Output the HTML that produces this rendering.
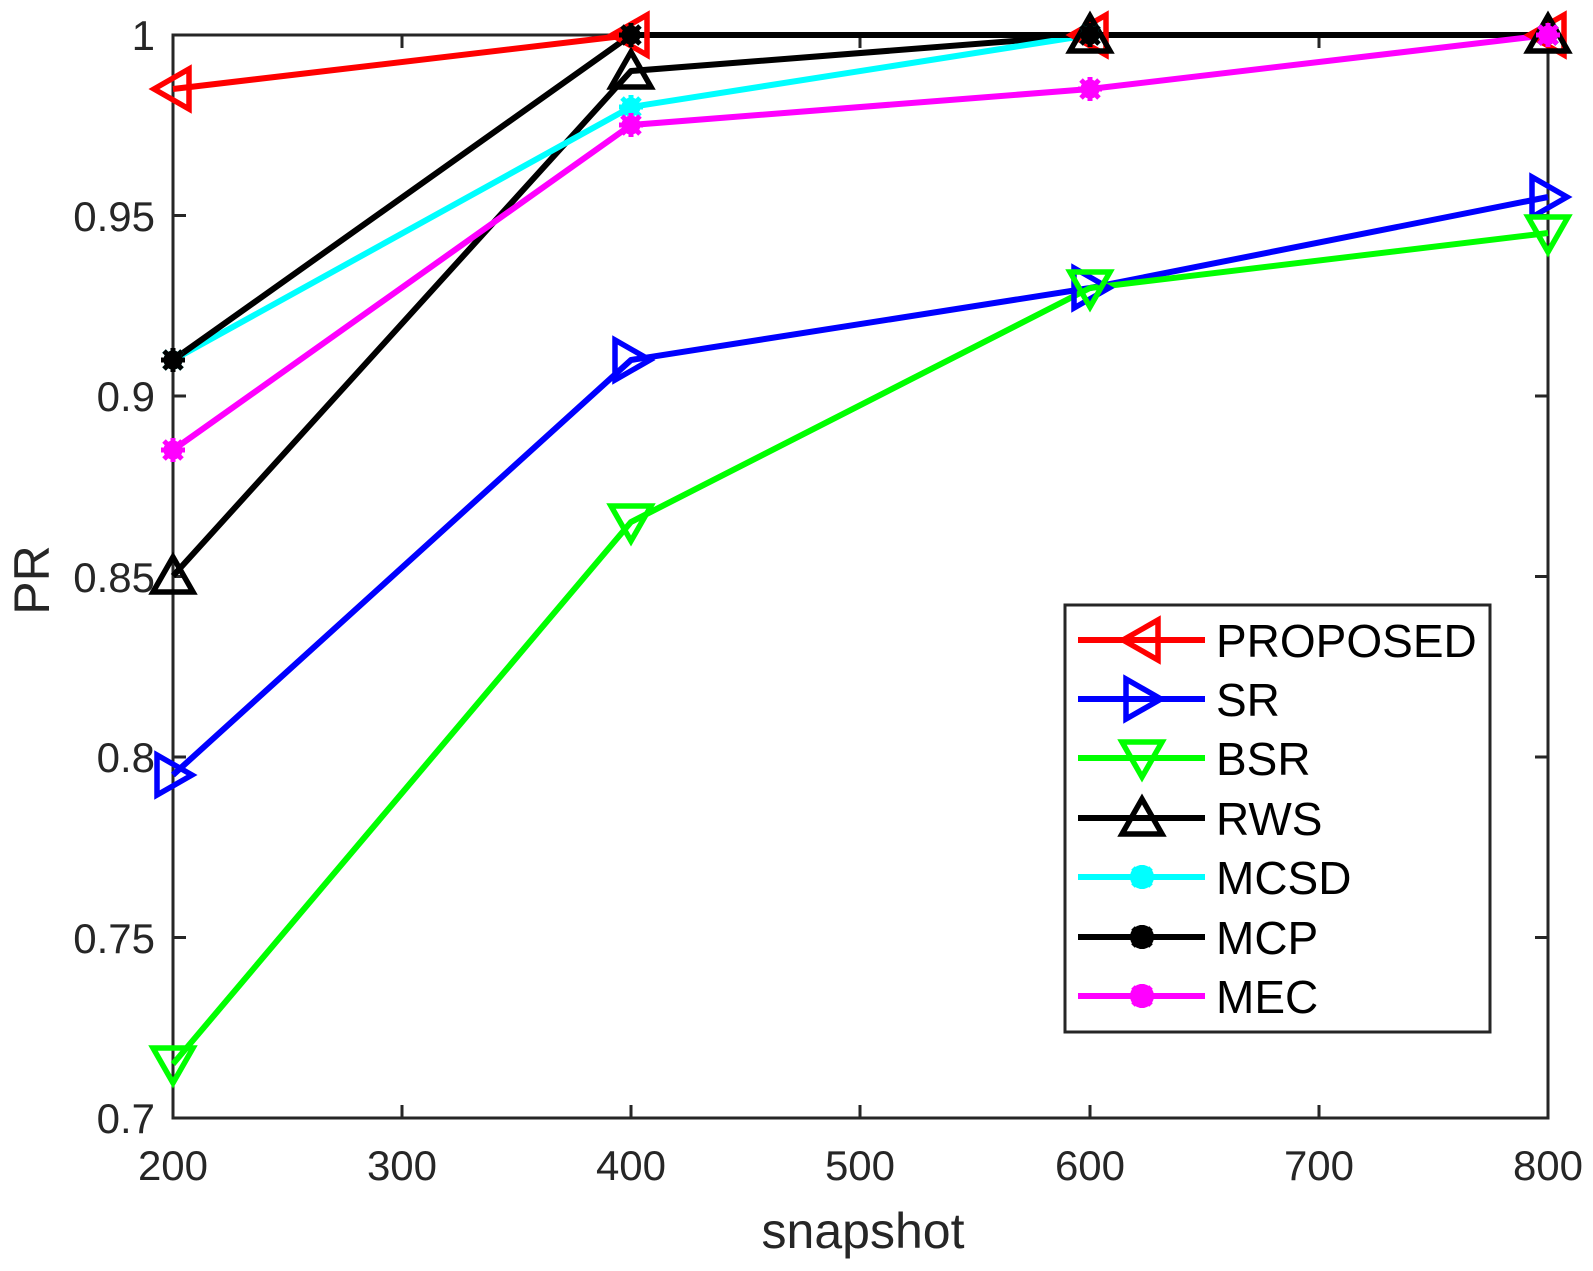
<!DOCTYPE html>
<html><head><style>body{margin:0;background:#fff}svg{display:block}</style></head><body>
<svg width="1593" height="1271" xmlns="http://www.w3.org/2000/svg" font-family="Liberation Sans, sans-serif">
<defs>
<g id="tl"><polygon points="-19,0 16,-20 16,20" fill="none" stroke-width="5.5"/></g>
<g id="tr"><polygon points="19,0 -16,-20 -16,20" fill="none" stroke-width="5.5"/></g>
<g id="td"><polygon points="0,19 -20,-16 20,-16" fill="none" stroke-width="5.5"/></g>
<g id="tu"><polygon points="0,-19 -20,16 20,16" fill="none" stroke-width="5.5"/></g>
<g id="st"><circle r="9"/><path d="M-12,0H12M0,-12V12M-9,-9L9,9M-9,9L9,-9" stroke-width="5"/></g>
</defs>
<rect x="173" y="35" width="1375" height="1083" fill="#fff" stroke="#262626" stroke-width="3"/>
<g stroke="#262626" stroke-width="3">
<path d="M402,1118v-13M631,1118v-13M860,1118v-13M1090,1118v-13M1319,1118v-13M402,35v13M631,35v13M860,35v13M1090,35v13M1319,35v13"/>
<path d="M173,215.5h13M173,396h13M173,576.5h13M173,757h13M173,937.5h13M1548,215.5h-13M1548,396h-13M1548,576.5h-13M1548,757h-13M1548,937.5h-13"/>
</g>
<g font-size="42" fill="#262626" text-anchor="middle">
<text x="173" y="1180">200</text><text x="402" y="1180">300</text><text x="631" y="1180">400</text><text x="860" y="1180">500</text><text x="1090" y="1180">600</text><text x="1319" y="1180">700</text><text x="1548" y="1180">800</text>
</g>
<g font-size="42" fill="#262626" text-anchor="end">
<text x="155" y="50">1</text><text x="155" y="231">0.95</text><text x="155" y="411">0.9</text><text x="155" y="592">0.85</text><text x="155" y="772">0.8</text><text x="155" y="953">0.75</text><text x="155" y="1133">0.7</text>
</g>
<text x="863" y="1248" font-size="50" fill="#262626" text-anchor="middle">snapshot</text>
<text transform="translate(49,580) rotate(-90)" font-size="50" fill="#262626" text-anchor="middle">PR</text>
<g fill="none" stroke-width="6" stroke-linejoin="round">
<polyline stroke="#f00" points="173,89 631,35 1090,35 1548,35"/>
<polyline stroke="#00f" points="173,775 631,360 1090,288 1548,197"/>
<polyline stroke="#0f0" points="173,1064 631,522 1090,288 1548,233"/>
<polyline stroke="#000" points="173,576 631,71 1090,35 1548,35"/>
<polyline stroke="#0ff" points="173,360 631,107 1090,35 1548,35"/>
<polyline stroke="#000" points="173,360 631,35 1090,35 1548,35"/>
<polyline stroke="#f0f" points="173,450 631,125 1090,89 1548,35"/>
</g>
<g stroke="#f00"><use href="#tl" x="173" y="89"/><use href="#tl" x="631" y="35"/><use href="#tl" x="1090" y="35"/><use href="#tl" x="1548" y="35"/></g>
<g stroke="#00f"><use href="#tr" x="173" y="775"/><use href="#tr" x="631" y="360"/><use href="#tr" x="1090" y="288"/><use href="#tr" x="1548" y="197"/></g>
<g stroke="#0f0"><use href="#td" x="173" y="1064"/><use href="#td" x="631" y="522"/><use href="#td" x="1090" y="288"/><use href="#td" x="1548" y="233"/></g>
<g stroke="#000"><use href="#tu" x="173" y="576"/><use href="#tu" x="631" y="71"/><use href="#tu" x="1090" y="35"/><use href="#tu" x="1548" y="35"/></g>
<g stroke="#0ff" fill="#0ff"><use href="#st" x="173" y="360"/><use href="#st" x="631" y="107"/><use href="#st" x="1090" y="35"/><use href="#st" x="1548" y="35"/></g>
<g stroke="#000" fill="#000"><use href="#st" x="173" y="360"/><use href="#st" x="631" y="35"/><use href="#st" x="1090" y="35"/><use href="#st" x="1548" y="35"/></g>
<g stroke="#f0f" fill="#f0f"><use href="#st" x="173" y="450"/><use href="#st" x="631" y="125"/><use href="#st" x="1090" y="89"/><use href="#st" x="1548" y="35"/></g>
<rect x="1065" y="605" width="425" height="427" fill="#fff" stroke="#262626" stroke-width="3"/>
<g stroke-width="6">
<path d="M1078,640H1205" stroke="#f00"/><use href="#tl" x="1142" y="640" stroke="#f00"/>
<path d="M1078,699H1205" stroke="#00f"/><use href="#tr" x="1142" y="699" stroke="#00f"/>
<path d="M1078,758H1205" stroke="#0f0"/><use href="#td" x="1142" y="758" stroke="#0f0"/>
<path d="M1078,818H1205" stroke="#000"/><use href="#tu" x="1142" y="818" stroke="#000"/>
<path d="M1078,877H1205" stroke="#0ff"/><use href="#st" x="1142" y="877" stroke="#0ff" fill="#0ff"/>
<path d="M1078,937H1205" stroke="#000"/><use href="#st" x="1142" y="937" stroke="#000" fill="#000"/>
<path d="M1078,996H1205" stroke="#f0f"/><use href="#st" x="1142" y="996" stroke="#f0f" fill="#f0f"/>
</g>
<g font-size="46" fill="#000">
<text x="1216" y="657">PROPOSED</text><text x="1216" y="716">SR</text><text x="1216" y="775">BSR</text><text x="1216" y="835">RWS</text><text x="1216" y="894">MCSD</text><text x="1216" y="954">MCP</text><text x="1216" y="1013">MEC</text>
</g>
</svg>
</body></html>
